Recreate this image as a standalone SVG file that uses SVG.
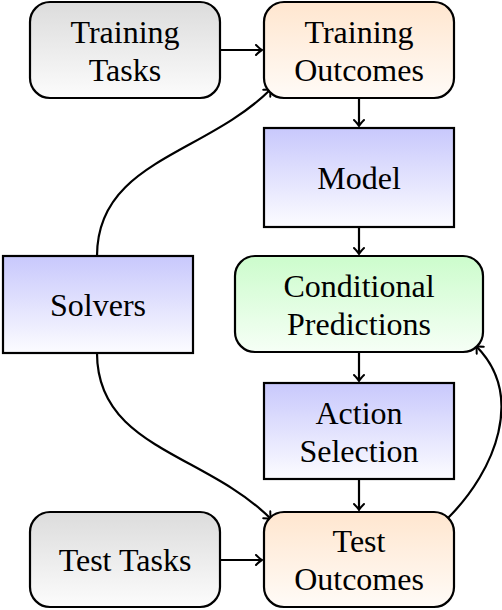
<svg xmlns="http://www.w3.org/2000/svg" width="502" height="610" viewBox="0 0 502 610">
<style>
.box{stroke:#000;stroke-width:2.2}
.t{font-size:32px;fill:#000;text-anchor:middle}
.e{fill:none;stroke:#000;stroke-width:2.2;marker-end:url(#arr)}
</style>
<defs>
<linearGradient id="gGray" x1="0" y1="0" x2="0" y2="1"><stop offset="0" stop-color="#dcdcdc"/><stop offset="1" stop-color="#fcfcfc"/></linearGradient>
<linearGradient id="gOrange" x1="0" y1="0" x2="0" y2="1"><stop offset="0" stop-color="#ffe6cf"/><stop offset="1" stop-color="#fffbf7"/></linearGradient>
<linearGradient id="gGreen" x1="0" y1="0" x2="0" y2="1"><stop offset="0" stop-color="#ccfccc"/><stop offset="1" stop-color="#f6fff6"/></linearGradient>
<linearGradient id="gBlue" x1="0" y1="0" x2="0" y2="1"><stop offset="0" stop-color="#c8c8fc"/><stop offset="1" stop-color="#fcfcff"/></linearGradient>
<marker id="arr" viewBox="-8 -6 10 12" refX="0" refY="0" markerWidth="10" markerHeight="12" markerUnits="userSpaceOnUse" orient="auto">
<path d="M-6,-5 Q-2,-1 0,0 Q-2,1 -6,5" fill="none" stroke="#000" stroke-width="2" stroke-linecap="round" stroke-linejoin="round"/>
</marker>
</defs>
<g id="connectors">
<path class="e" d="M220,50 L262,50"/>
<path class="e" d="M220,560 L262,560"/>
<path class="e" d="M359,98 L359,126"/>
<path class="e" d="M359,227 L359,254"/>
<path class="e" d="M359,352 L359,381"/>
<path class="e" d="M359,479 L359,510"/>
<path class="e" d="M97,256 C97,161 205,155 271,89"/>
<path class="e" d="M97,353 C97,448 205,453 271,519"/>
<path class="e" d="M448,518 C496,470 525,395 476,346"/>
</g>
<g font-family="'Liberation Serif', 'DejaVu Serif', serif">
<g id="training-tasks">
<rect class="box" x="30" y="2" width="190" height="96" rx="20" fill="url(#gGray)"/>
<text class="t" x="125" y="43">Training</text>
<text class="t" x="125" y="81">Tasks</text>
</g>
<g id="training-outcomes">
<rect class="box" x="264" y="2" width="190" height="96" rx="20" fill="url(#gOrange)"/>
<text class="t" x="359" y="43">Training</text>
<text class="t" x="359" y="81">Outcomes</text>
</g>
<g id="model">
<rect class="box" x="264" y="128" width="190" height="99" fill="url(#gBlue)"/>
<text class="t" x="359" y="189">Model</text>
</g>
<g id="conditional-predictions">
<rect class="box" x="235" y="256" width="248" height="96" rx="20" fill="url(#gGreen)"/>
<text class="t" x="359" y="297">Conditional</text>
<text class="t" x="359" y="335">Predictions</text>
</g>
<g id="solvers">
<rect class="box" x="3" y="256" width="190" height="97" fill="url(#gBlue)"/>
<text class="t" x="98" y="316">Solvers</text>
</g>
<g id="action-selection">
<rect class="box" x="264" y="383" width="190" height="96" fill="url(#gBlue)"/>
<text class="t" x="359" y="424">Action</text>
<text class="t" x="359" y="462">Selection</text>
</g>
<g id="test-tasks">
<rect class="box" x="30" y="512" width="190" height="95" rx="20" fill="url(#gGray)"/>
<text class="t" x="125" y="571">Test Tasks</text>
</g>
<g id="test-outcomes">
<rect class="box" x="264" y="512" width="190" height="95" rx="20" fill="url(#gOrange)"/>
<text class="t" x="359" y="552">Test</text>
<text class="t" x="359" y="590">Outcomes</text>
</g>
</g>
</svg>
